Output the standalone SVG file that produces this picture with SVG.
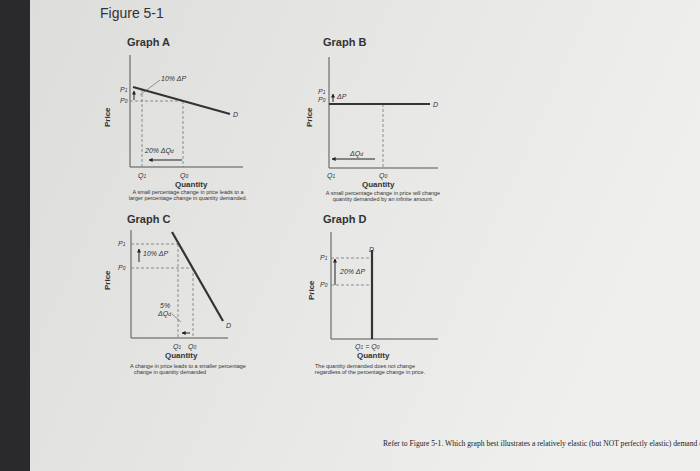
<svg xmlns="http://www.w3.org/2000/svg" width="700" height="471" viewBox="0 0 700 471">
<defs>
<marker id="ah" viewBox="0 0 10 10" refX="9" refY="5" markerWidth="4" markerHeight="4" orient="auto"><path d="M0,0L10,5L0,10z" fill="#222"/></marker>
<linearGradient id="bg" x1="0" y1="0" x2="1" y2="0.3"><stop offset="0" stop-color="#dcdcda"/><stop offset="1" stop-color="#efefed"/></linearGradient>
</defs>
<style>
text{font-family:"Liberation Sans",Arial,sans-serif;fill:#333}
.t{font-size:11px;font-weight:bold}
.s{font-size:7px;font-style:italic}
.q{font-size:8px;font-weight:bold}
.c{font-size:5.5px;text-anchor:middle}
.ax{stroke:#555;stroke-width:1;fill:none}
.dm{stroke:#333;stroke-width:2.2;fill:none}
.ds{stroke:#777;stroke-width:0.8;stroke-dasharray:3,2;fill:none}
.ar{stroke:#222;stroke-width:1;marker-end:url(#ah)}
</style>
<rect width="700" height="471" fill="url(#bg)"/>
<rect width="30" height="471" fill="#2a2a2c"/>
<text x="100" y="18" style="font-size:14px">Figure 5-1</text>
<g id="graphA">
<text class="t" x="127" y="46">Graph A</text>
<text class="q" transform="translate(110,127) rotate(-90)">Price</text>
<path class="ax" d="M130,55V167H243"/>
<path class="ds" d="M130,101H183M142,89V167M183,101V167"/>
<path class="dm" d="M133,87L230,114"/>
<line class="ar" x1="134" y1="100" x2="134" y2="91"/>
<path d="M160,80L140,95" stroke="#555" stroke-width="0.6"/>
<text class="s" x="161" y="81">10% ΔP</text>
<text class="s" x="233" y="117">D</text>
<text class="s" x="120" y="92">P<tspan font-size="5">1</tspan></text>
<text class="s" x="120" y="103">P<tspan font-size="5">0</tspan></text>
<text class="s" x="145" y="153">20% ΔQ<tspan font-size="5">d</tspan></text>
<line class="ar" x1="182" y1="160" x2="149" y2="160"/>
<text class="s" x="138" y="178">Q<tspan font-size="5">1</tspan></text>
<text class="s" x="180" y="178">Q<tspan font-size="5">0</tspan></text>
<text class="q" x="175" y="187">Quantity</text>
<text class="c" x="188" y="194">A small percentage change in price leads to a</text>
<text class="c" x="188" y="200">larger percentage change in quantity demanded.</text>
</g>
<g id="graphB">
<text class="t" x="323" y="46">Graph B</text>
<text class="q" transform="translate(312,127) rotate(-90)">Price</text>
<path class="ax" d="M329,57V168H438"/>
<path class="ds" d="M383,104V168"/>
<path class="dm" d="M329,104H430"/>
<line class="ar" x1="333" y1="102" x2="333" y2="94"/>
<text class="s" x="337" y="99">ΔP</text>
<text class="s" x="433" y="107">D</text>
<text class="s" x="318" y="94">P<tspan font-size="5">1</tspan></text>
<text class="s" x="318" y="102">P<tspan font-size="5">0</tspan></text>
<text class="s" x="350" y="156">ΔQ<tspan font-size="5">d</tspan></text>
<line class="ar" x1="375" y1="159" x2="332" y2="159"/>
<text class="s" x="327" y="178">Q<tspan font-size="5">1</tspan></text>
<text class="s" x="379" y="178">Q<tspan font-size="5">0</tspan></text>
<text class="q" x="362" y="187">Quantity</text>
<text class="c" x="383" y="195">A small percentage change in price will change</text>
<text class="c" x="383" y="201">quantity demanded by an infinite amount.</text>
</g>
<g id="graphC">
<text class="t" x="127" y="223">Graph C</text>
<text class="q" transform="translate(110,290) rotate(-90)">Price</text>
<path class="ax" d="M131,230V338H228"/>
<path class="ds" d="M131,244H178M131,268H192M178,244V338M193,268V338"/>
<path class="dm" d="M172,232L223,321"/>
<line class="ar" x1="139" y1="262" x2="139" y2="249"/>
<text class="s" x="143" y="256">10% ΔP</text>
<text class="s" x="226" y="328">D</text>
<text class="s" x="118" y="246">P<tspan font-size="5">1</tspan></text>
<text class="s" x="118" y="270">P<tspan font-size="5">0</tspan></text>
<text class="s" x="160" y="308">5%</text>
<text class="s" x="158" y="316">ΔQ<tspan font-size="5">d</tspan></text>
<path d="M172,314L181,322" stroke="#555" stroke-width="0.6"/>
<line class="ar" x1="190" y1="333" x2="182" y2="333"/>
<text class="s" x="173" y="349">Q<tspan font-size="5">1</tspan></text>
<text class="s" x="188" y="349">Q<tspan font-size="5">0</tspan></text>
<text class="q" x="165" y="358">Quantity</text>
<text class="c" x="188" y="368">A change in price leads to a smaller percentage</text>
<text class="c" x="170" y="374">change in quantity demanded</text>
</g>
<g id="graphD">
<text class="t" x="323" y="223">Graph D</text>
<text class="q" transform="translate(314,300) rotate(-90)">Price</text>
<path class="ax" d="M331,232V339H438"/>
<path class="ds" d="M331,258H372M331,285H372"/>
<path class="dm" d="M372,250V339"/>
<line class="ar" x1="335" y1="285" x2="335" y2="259"/>
<text class="s" x="340" y="274">20% ΔP</text>
<text class="s" x="369" y="252">D</text>
<text class="s" x="320" y="260">P<tspan font-size="5">1</tspan></text>
<text class="s" x="320" y="287">P<tspan font-size="5">0</tspan></text>
<text class="s" x="355" y="349">Q<tspan font-size="5">1</tspan> = Q<tspan font-size="5">0</tspan></text>
<text class="q" x="357" y="358">Quantity</text>
<text class="c" x="365" y="368">The quantity demanded does not change</text>
<text class="c" x="370" y="374">regardless of the percentage change in price.</text>
</g>
<text x="383" y="446" style="font-family:'Liberation Serif',serif;font-size:7.6px;fill:#222">Refer to Figure 5-1. Which graph best illustrates a relatively elastic (but NOT perfectly elastic) demand curve?</text>
</svg>
